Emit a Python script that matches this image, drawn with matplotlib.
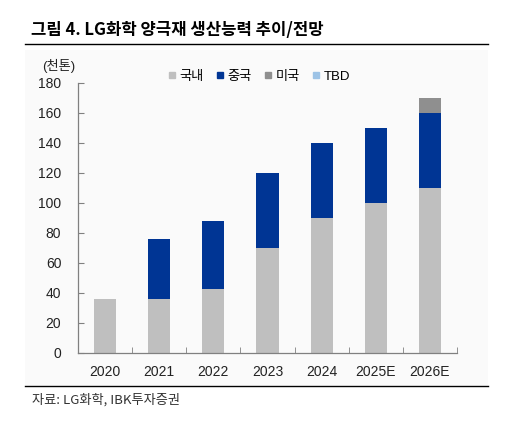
import numpy as np
import matplotlib
matplotlib.use('Agg')
import matplotlib.pyplot as plt
from matplotlib.lines import Line2D

plt.rcParams['font.family'] = ['Liberation Sans', 'Noto Sans CJK KR', 'DejaVu Sans']

# data (천톤)
years = ['2020', '2021', '2022', '2023', '2024', '2025E', '2026E']
domestic = [36, 36, 43, 70, 90, 100, 110]
china = [0, 40, 45, 50, 50, 50, 50]
usa = [0, 0, 0, 0, 0, 0, 10]
tbd = [0, 0, 0, 0, 0, 0, 0]

series_names = ['국내', '중국', '미국', 'TBD']
colors = ['#bfbfbf', '#003594', '#8f8f8f', '#9dc3e6']

fig = plt.figure(figsize=(5.15, 4.29), dpi=100)
fig.patch.set_facecolor('white')

# light panel behind chart
panel = plt.Rectangle((25 / 515, 1 - 385 / 429), 463 / 515, 335 / 429,
                      transform=fig.transFigure, facecolor='#fafafa',
                      edgecolor='none', zorder=-5)
fig.add_artist(panel)

ax = fig.add_axes([78 / 515, 1 - 353 / 429, 379 / 515, 270 / 429])
ax.set_facecolor('none')
ax.set_zorder(3)

x = np.arange(len(years))
bottom = np.zeros(len(years))
for vals, c in zip([domestic, china, usa, tbd], colors):
    ax.bar(x, vals, width=0.41, bottom=bottom, color=c, zorder=2)
    bottom += np.array(vals)

ax.set_xlim(-0.5, len(years) - 0.5)
ax.set_ylim(0, 180)
ax.set_yticks(range(0, 181, 20))
ax.set_xticks(x)
ax.set_xticklabels(years)
ax.set_xticks(np.arange(-0.5, len(years) + 0.5, 1), minor=True)
ax.tick_params(axis='x', which='major', length=0, pad=9, labelsize=10, colors='#222222')
ax.tick_params(axis='x', which='minor', direction='in', length=4, color='#808080')
ax.tick_params(axis='y', direction='in', length=4, color='#808080', pad=12,
               labelsize=10, labelcolor='#222222')

for s in ['top', 'right']:
    ax.spines[s].set_visible(False)
for s in ['left', 'bottom']:
    ax.spines[s].set_color('#808080')
    ax.spines[s].set_linewidth(0.9)

handles = [Line2D([], [], marker='s', linestyle='none', markersize=4.5,
                  markerfacecolor=c, markeredgecolor=c) for c in colors]
fig.legend(handles, series_names, loc='center', bbox_to_anchor=(259 / 515, 1 - 77 / 429),
           ncol=4, frameon=False, handlelength=0.7, handletextpad=0.2, columnspacing=0.9,
           prop={'family': ['Liberation Sans', 'Noto Sans CJK KR'], 'size': 9.5})

fig.text(42 / 515, 1 - 66 / 429, '(천톤)', fontsize=9.5, va='center', ha='left',
         family=['Liberation Sans', 'Noto Sans CJK KR'], color='#222222')

fig.text(31 / 515, 1 - 30 / 429, '그림 4. LG화학 양극재 생산능력 추이/전망', fontsize=12,
         fontweight='bold', va='center', ha='left', family=['Noto Sans CJK KR'])
fig.add_artist(Line2D([25 / 515, 488 / 515], [1 - 44 / 429, 1 - 44 / 429],
                      transform=fig.transFigure, color='black', linewidth=1))
fig.add_artist(Line2D([25 / 515, 488 / 515], [1 - 386 / 429, 1 - 386 / 429],
                      transform=fig.transFigure, color='black', linewidth=1))
fig.text(32 / 515, 1 - 400 / 429, '자료: LG화학, IBK투자증권', fontsize=9.5, va='center',
         ha='left', family=['Noto Sans CJK KR'], color='#333333')

fig.savefig('out.png', dpi=100)
